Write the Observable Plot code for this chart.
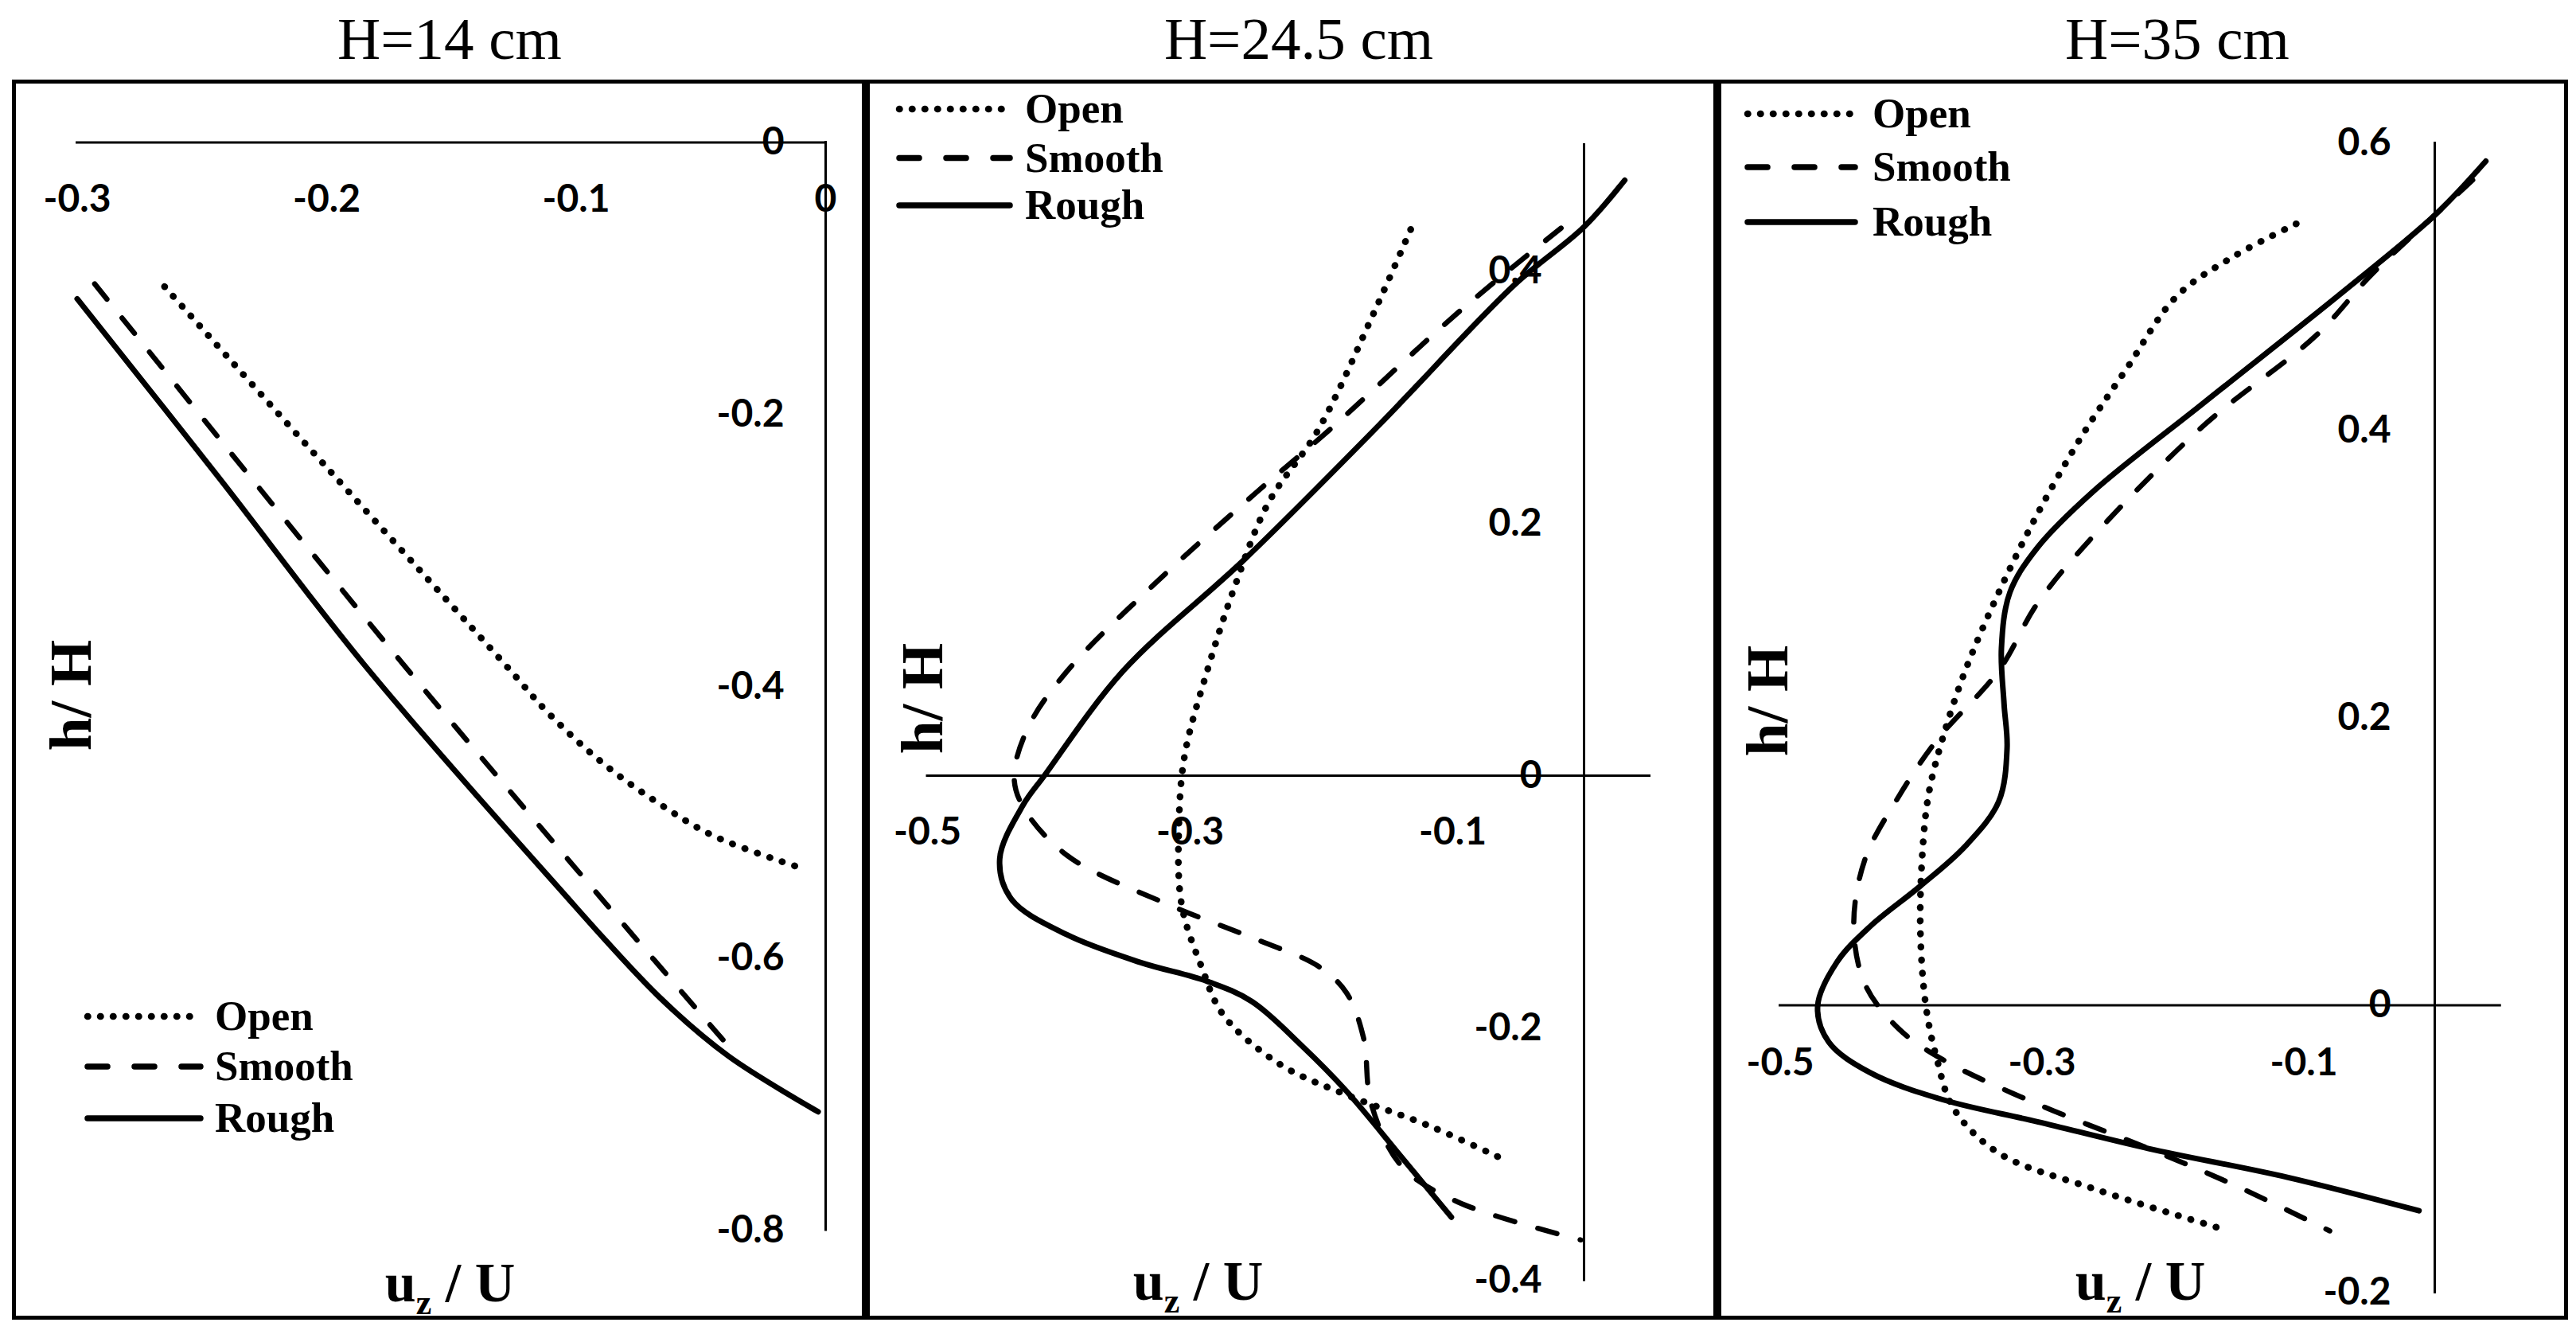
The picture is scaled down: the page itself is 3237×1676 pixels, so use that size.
<!DOCTYPE html>
<html>
<head>
<meta charset="utf-8">
<script src="https://cdn.jsdelivr.net/npm/d3@7"></script>
<script src="https://cdn.jsdelivr.net/npm/@observablehq/plot@0.6"></script>
<style>
  html, body { margin: 0; padding: 0; background: #fff; }
  body { width: 3237px; height: 1676px; position: relative; overflow: hidden; font-family: "Liberation Serif", serif; }
  .title { position: absolute; top: 11px; font: 75px/75px "Liberation Serif", serif; color: #000; transform: translateX(-50%); white-space: nowrap; }
  .box { position: absolute; border: 5px solid #000; box-sizing: border-box; pointer-events: none; }
  .plot { position: absolute; }
  .legend { position: absolute; left: 0; top: 0; pointer-events: none; }
</style>
</head>
<body>
<script>
// ---------------- data ----------------
const categories = ["Open", "Smooth", "Rough"];
const titles = ["H=14 cm", "H=24.5 cm", "H=35 cm"];
const yTitle = "h/ H";
const xTitle = "uz / U";

// Panel 1 : H = 14 cm   ([u_z/U, h/H])
const p1Open   = [[-0.265,-0.106],[-0.199,-0.241],[-0.128,-0.385],[-0.111,-0.420],[-0.089,-0.457],[-0.067,-0.486],[-0.045,-0.510],[-0.011,-0.533]];
const p1Smooth = [[-0.293,-0.104],[-0.228,-0.252],[-0.162,-0.400],[-0.089,-0.558],[-0.036,-0.671]];
const p1Rough  = [[-0.300,-0.115],[-0.243,-0.247],[-0.185,-0.384],[-0.111,-0.540],[-0.067,-0.628],[-0.039,-0.672],[-0.003,-0.713]];
const p1XTicks = [-0.3, -0.2, -0.1, 0];
const p1XTickLabels = ["-0.3", "-0.2", "-0.1", "0"];
const p1YTicks = [0, -0.2, -0.4, -0.6, -0.8];
const p1YTickLabels = ["0", "-0.2", "-0.4", "-0.6", "-0.8"];
const p1XAxisSpan = [-0.3, 0];
const p1YAxisSpan = [-0.8, 0];

// Panel 2 : H = 24.5 cm
const p2Open   = [[-0.132,0.433],[-0.160,0.367],[-0.2025,0.274],[-0.2405,0.216],[-0.266,0.150],[-0.287,0.083],[-0.304,0.017],[-0.3085,-0.038],[-0.3065,-0.102],[-0.2915,-0.151],[-0.2745,-0.190],[-0.232,-0.2285],[-0.181,-0.253],[-0.117,-0.278],[-0.0575,-0.306]];
const p2Smooth = [[-0.0175,0.434],[-0.096,0.367],[-0.194,0.274],[-0.249,0.225],[-0.325,0.154],[-0.3935,0.083],[-0.423,0.039],[-0.434,0.0],[-0.4276,-0.024],[-0.394,-0.063],[-0.317,-0.102],[-0.249,-0.130],[-0.2025,-0.151],[-0.181,-0.172],[-0.168,-0.2075],[-0.162,-0.2605],[-0.1385,-0.310],[-0.096,-0.338],[-0.0025,-0.368]];
const p2Rough  = [[0.031,0.472],[0.0,0.435],[-0.053,0.389],[-0.156,0.278],[-0.258,0.172],[-0.351,0.083],[-0.411,0.0],[-0.4276,-0.024],[-0.445,-0.066],[-0.436,-0.098],[-0.394,-0.126],[-0.338,-0.148],[-0.287,-0.163],[-0.253,-0.179],[-0.215,-0.214],[-0.181,-0.250],[-0.1385,-0.303],[-0.101,-0.350]];
const p2XTicks = [-0.5, -0.3, -0.1];
const p2XTickLabels = ["-0.5", "-0.3", "-0.1"];
const p2YTicks = [0.4, 0.2, 0, -0.2, -0.4];
const p2YTickLabels = ["0.4", "0.2", "0", "-0.2", "-0.4"];
const p2XAxisSpan = [-0.5, 0.05];
const p2YAxisSpan = [-0.4, 0.5];

// Panel 3 : H = 35 cm
const p3Open   = [[-0.1058,0.544],[-0.1547,0.5207],[-0.1972,0.4935],[-0.2355,0.443],[-0.2695,0.3964],[-0.3035,0.342],[-0.333,0.2875],[-0.3586,0.2331],[-0.3757,0.1865],[-0.386,0.150],[-0.3905,0.117],[-0.393,0.0552],[-0.3887,-0.0006],[-0.3802,-0.0378],[-0.3675,-0.0718],[-0.3331,-0.1028],[-0.261,-0.1275],[-0.1632,-0.1554]];
const p3Smooth = [[0.029,0.5745],[0.0,0.550],[-0.048,0.509],[-0.0906,0.4663],[-0.176,0.404],[-0.261,0.3264],[-0.3035,0.2798],[-0.333,0.2331],[-0.380,0.185],[-0.4097,0.145],[-0.4353,0.1015],[-0.4438,0.0552],[-0.4353,0.0149],[-0.4097,-0.0161],[-0.3757,-0.0378],[-0.3035,-0.0687],[-0.2185,-0.0997],[-0.1547,-0.1244],[-0.0802,-0.157]];
const p3Rough  = [[0.039,0.5876],[0.0,0.550],[-0.0696,0.497],[-0.176,0.4197],[-0.261,0.3576],[-0.3035,0.3186],[-0.3245,0.2875],[-0.331,0.2487],[-0.329,0.2098],[-0.3267,0.179],[-0.3331,0.1418],[-0.3586,0.1108],[-0.393,0.083],[-0.431,0.0552],[-0.4565,0.0303],[-0.4714,-0.0006],[-0.463,-0.0254],[-0.431,-0.047],[-0.376,-0.0656],[-0.3035,-0.081],[-0.2185,-0.0997],[-0.112,-0.1198],[-0.012,-0.143]];
const p3XTicks = [-0.5, -0.3, -0.1];
const p3XTickLabels = ["-0.5", "-0.3", "-0.1"];
const p3YTicks = [0.6, 0.4, 0.2, 0, -0.2];
const p3YTickLabels = ["0.6", "0.4", "0.2", "0", "-0.2"];
const p3XAxisSpan = [-0.5, 0.05];
const p3YAxisSpan = [-0.2, 0.6];

// ---------------- styles / layout ----------------
const curveStyle = {
  Open:   {strokeWidth: 8.5, strokeDasharray: "0.5,16", strokeLinecap: "round"},
  Smooth: {strokeWidth: 6.5, strokeDasharray: "25,30", strokeLinecap: "round"},
  Rough:  {strokeWidth: 7, strokeLinecap: "round"}
};
const legendStyle = {
  Open:   {w: 8.5, dash: "0.5,15.5", cap: "round"},
  Smooth: {w: 7.5, dash: "25,34", cap: "round"},
  Rough:  {w: 7.5, dash: null, cap: "round"}
};

const panels = [
  {left: 15, top: 100, width: 1073, height: 1558, x0: 1037, kx: 3135, y0: 178.5, ky: 1708,
   series: [p1Open, p1Smooth, p1Rough], xTicks: p1XTicks, xTickLabels: p1XTickLabels,
   yTicks: p1YTicks, yTickLabels: p1YTickLabels, xSpan: p1XAxisSpan, ySpan: p1YAxisSpan,
   yTickDx: -52, xTickDy: 72, titleX: 565, yTitleX: 113, yTitleY: 873, xTitleX: 565, xTitleY: 1634,
   legend: {x1: 110, x2: 252, tx: 270, rows: [1277, 1340, 1405]}},
  {left: 1088, top: 100, width: 1070, height: 1558, x0: 1990, kx: 1650, y0: 974, ky: 1585,
   series: [p2Open, p2Smooth, p2Rough], xTicks: p2XTicks, xTickLabels: p2XTickLabels,
   yTicks: p2YTicks, yTickLabels: p2YTickLabels, xSpan: p2XAxisSpan, ySpan: p2YAxisSpan,
   yTickDx: -53, xTickDy: 71, titleX: 1632, yTitleX: 1183, yTitleY: 877, xTitleX: 1505, xTitleY: 1632,
   legend: {x1: 1130, x2: 1269, tx: 1288, rows: [137, 198.5, 258]}},
  {left: 2158, top: 100, width: 1069, height: 1558, x0: 3059, kx: 1645, y0: 1262.6, ky: 1805,
   series: [p3Open, p3Smooth, p3Rough], xTicks: p3XTicks, xTickLabels: p3XTickLabels,
   yTicks: p3YTicks, yTickLabels: p3YTickLabels, xSpan: p3XAxisSpan, ySpan: p3YAxisSpan,
   yTickDx: -55, xTickDy: 73, titleX: 2736, yTitleX: 2245, yTitleY: 880, xTitleX: 2689, xTitleY: 1632,
   legend: {x1: 2196, x2: 2331, tx: 2353, rows: [143, 210, 279]}}
];

const tickFont = {fontFamily: "Lato", fontWeight: 700, fontSize: 48};

panels.forEach((cfg, pi) => {
  const X = v => cfg.x0 + cfg.kx * v - cfg.left;
  const Y = v => cfg.y0 - cfg.ky * v - cfg.top;
  const xDomain = cfg.xSpan, yDomain = cfg.ySpan;
  const xTable = cfg.xTicks.map((v, i) => ({v, label: cfg.xTickLabels[i]}));
  const yTable = cfg.yTicks.map((v, i) => ({v, label: cfg.yTickLabels[i]}));

  const lineMarks = categories.map((c, i) =>
    Plot.line(cfg.series[i], {x: d => d[0], y: d => d[1], curve: "catmull-rom",
      stroke: "#000", strokeLinejoin: "round", ...curveStyle[c]}));

  const svg = Plot.plot({
    width: cfg.width, height: cfg.height, margin: 0,
    style: {background: "transparent", overflow: "visible"},
    x: {domain: xDomain, range: xDomain.map(X), axis: null},
    y: {domain: yDomain, range: yDomain.map(Y), axis: null},
    marks: [
      Plot.ruleY([0], {x1: () => cfg.xSpan[0], x2: () => cfg.xSpan[1], stroke: "#000", strokeWidth: 3, strokeLinecap: "square"}),
      Plot.ruleX([0], {y1: () => cfg.ySpan[0], y2: () => cfg.ySpan[1], stroke: "#000", strokeWidth: 3, strokeLinecap: "square"}),
      Plot.text(xTable, {x: "v", y: () => 0, text: "label", dy: cfg.xTickDy, textAnchor: "middle", fill: "#000", ...tickFont}),
      Plot.text(yTable, {x: () => 0, y: "v", text: "label", dx: cfg.yTickDx, textAnchor: "end", fill: "#000", ...tickFont}),
      ...lineMarks,
      Plot.text([yTitle], {text: d => d, frameAnchor: "top-left", dx: cfg.yTitleX - cfg.left, dy: cfg.yTitleY - cfg.top,
        rotate: -90, textAnchor: "middle", lineAnchor: "bottom", fill: "#000",
        fontFamily: "Liberation Serif", fontWeight: 700, fontSize: 75}),
      Plot.text([xTitle], {text: d => d, frameAnchor: "top-left", dx: cfg.xTitleX - cfg.left, dy: cfg.xTitleY - cfg.top,
        textAnchor: "middle", lineAnchor: "bottom", fill: "#000",
        fontFamily: "Liberation Serif", fontWeight: 700, fontSize: 70})
    ]
  });
  svg.classList.add("plot");
  svg.style.left = cfg.left + "px";
  svg.style.top = cfg.top + "px";
  document.body.appendChild(svg);

  // subscript z in the x-axis title
  d3.select(svg).selectAll("text").filter(function() { return this.textContent === xTitle; })
    .each(function() {
      const t = d3.select(this);
      t.text(null);
      t.append("tspan").text("u");
      t.append("tspan").attr("dy", 16).attr("font-size", 44).text("z");
      t.append("tspan").attr("dy", -16).text(" / U");
    });

  // panel frame
  const box = document.createElement("div");
  box.className = "box";
  Object.assign(box.style, {left: cfg.left + "px", top: cfg.top + "px", width: cfg.width + "px", height: cfg.height + "px"});
  document.body.appendChild(box);

  // title
  const title = document.createElement("div");
  title.className = "title";
  title.style.left = cfg.titleX + "px";
  title.textContent = titles[pi];
  document.body.appendChild(title);

  // legend
  const L = cfg.legend;
  const lg = d3.create("svg").attr("class", "legend").attr("width", 3237).attr("height", 1676);
  categories.forEach((c, i) => {
    const st = legendStyle[c];
    const yy = L.rows[i];
    lg.append("line").attr("x1", L.x1).attr("x2", L.x2).attr("y1", yy).attr("y2", yy)
      .attr("stroke", "#000").attr("stroke-width", st.w).attr("stroke-linecap", st.cap)
      .attr("stroke-dasharray", st.dash);
    lg.append("text").attr("x", L.tx).attr("y", yy + 17)
      .attr("font-family", "Liberation Serif").attr("font-weight", 700).attr("font-size", 53)
      .attr("fill", "#000").text(c);
  });
  document.body.appendChild(lg.node());
});
</script>
</body>
</html>
